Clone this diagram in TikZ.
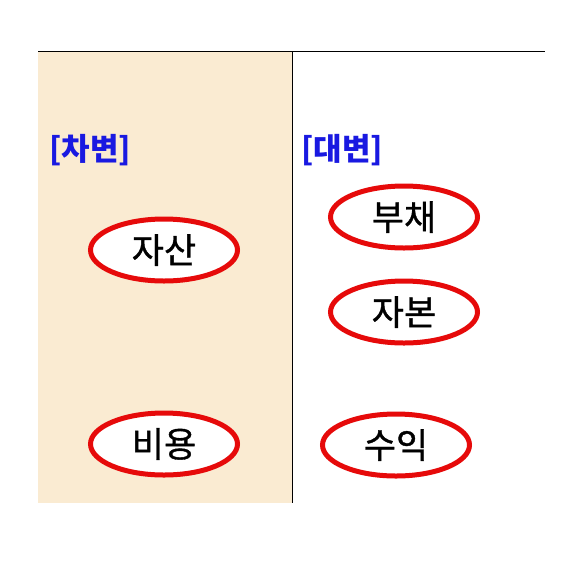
\documentclass[tikz,border=0pt]{standalone}
\usepackage{fontspec}
\newfontfamily\kor{Noto Sans CJK KR}
\newfontfamily\kormid{Noto Sans CJK KR}[FakeBold=1]
\usetikzlibrary{shapes.geometric}
\definecolor{debitbg}{RGB}{250,235,210}
\definecolor{acctred}{RGB}{230,10,10}
\definecolor{sideblue}{RGB}{25,25,225}

\begin{document}
\begin{tikzpicture}[x=1pt,y=-1pt,
  acct/.style={ellipse, draw=acctred, line width=5pt, fill=white, minimum width=147pt, minimum height=62pt, inner sep=0pt, font=\kormid\fontsize{35}{35}\selectfont},
  side/.style={anchor=west, text=sideblue, inner sep=0pt, font=\kor\bfseries\fontsize{31}{31}\selectfont}]
\useasboundingbox (0,0) rectangle (575,563);
\fill[debitbg] (38,51) rectangle (292,503);
\draw[thin] (38,51) -- (545,51);
\draw[thin] (292,51) -- (292,503);
\node[side] (debit) at (49,150) {[차변]};
\node[side] (credit) at (301,150) {[대변]};
\node[acct] (asset) at (164,250) {자산};
\node[acct] (expense) at (164,444) {비용};
\node[acct] (debt) at (404,217) {부채};
\node[acct] (capital) at (404,312) {자본};
\node[acct] (revenue) at (396,445) {수익};
\end{tikzpicture}
\end{document}
